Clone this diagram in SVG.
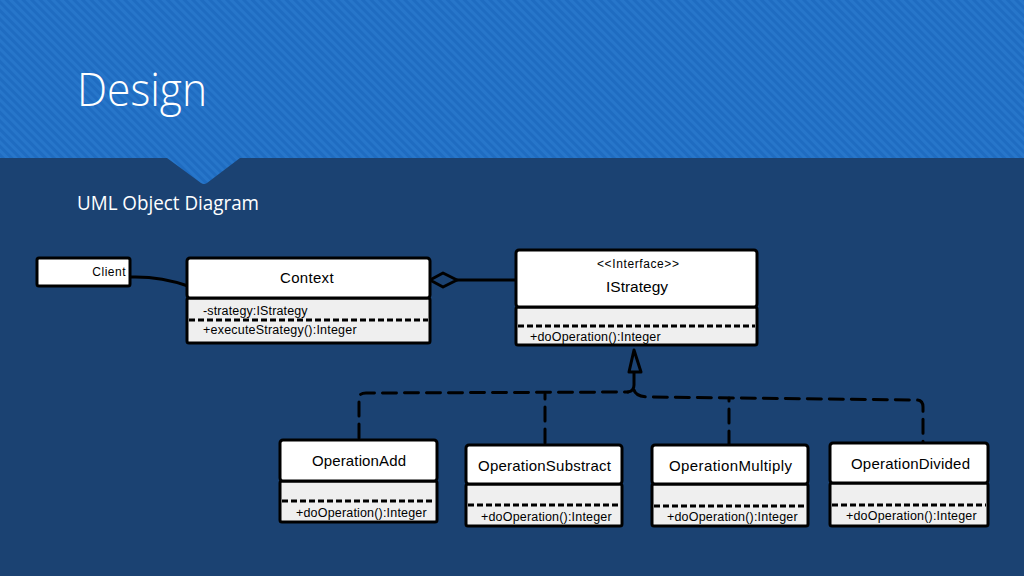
<svg xmlns="http://www.w3.org/2000/svg" width="1024" height="576" viewBox="0 0 1024 576">
<defs>
<pattern id="stripes" patternUnits="userSpaceOnUse" width="6" height="6" patternTransform="rotate(-45)">
<rect width="6" height="6" fill="#1F6CC1"/>
<rect width="3" height="6" fill="#2776CA"/>
</pattern>
<style>
.box{stroke:#000;stroke-width:3;stroke-linejoin:round}
.top{fill:#fff}
.bot{fill:#EFEFEF}
.sep{stroke:#000;stroke-width:3;stroke-dasharray:6 3;fill:none}
.t{font-family:"Liberation Sans",Arial,sans-serif;fill:#000}
.title{font-size:15px;text-anchor:middle;letter-spacing:0.3px}
.m{font-size:12.5px;letter-spacing:0.4px}
.con{stroke:#000;stroke-width:3;fill:none;stroke-linecap:round}
.dash{stroke-dasharray:14 8}
</style>
</defs>
<rect width="1024" height="576" fill="#1B4272"/>
<path d="M0 0H1024V158H240L207 183Q204 185 201 183L167 158H0Z" fill="url(#stripes)"/>
<text x="77" y="106" font-family="'Open Sans','Noto Sans',sans-serif" font-weight="300" font-size="46" fill="#fff" textLength="130" lengthAdjust="spacingAndGlyphs">Design</text>
<text x="77" y="210" font-family="'Open Sans','Noto Sans',sans-serif" font-size="20" fill="#fff" textLength="182" lengthAdjust="spacingAndGlyphs">UML Object Diagram</text>

<g id="connectors">
<path class="con" d="M130 277Q160 276 188 286"/>
<polygon points="430,280 443,273 457,280 443,287" fill="#1B4272" stroke="#000" stroke-width="3" stroke-linejoin="round"/>
<path class="con" d="M457 280L515 280"/>
<path class="con" d="M634 372V385Q634 391 628 392"/>
<polygon points="634,350 629,372 641,372" fill="#1B4272" stroke="#000" stroke-width="3" stroke-linejoin="round"/>
<path class="con dash" d="M359 438V398Q359 393 366 393L628 392"/>
<path class="con dash" d="M634 390Q636 397 650 397L916 400Q923 400 923 407V443"/>
<path class="con dash" d="M545 443V394"/>
<path class="con dash" d="M729 445V398"/>
</g>

<g id="client">
<rect class="box top" x="37" y="258" width="93" height="28" rx="2"/>
<text class="t" x="126" y="276" font-size="12" letter-spacing="0.5" text-anchor="end">Client</text>
</g>

<g id="context">
<rect class="box bot" x="187" y="298" width="243" height="45" rx="2"/>
<rect class="box top" x="187" y="258" width="243" height="40" rx="3"/>
<text class="t title" x="307" y="283">Context</text>
<text class="t m" x="203" y="315" textLength="105" lengthAdjust="spacing">-strategy:IStrategy</text>
<path class="sep" d="M189 320H428"/>
<text class="t m" x="203" y="334" textLength="154" lengthAdjust="spacing">+executeStrategy():Integer</text>
</g>

<g id="istrategy">
<rect class="box bot" x="516" y="307" width="241" height="38" rx="2"/>
<rect class="box top" x="516" y="250" width="241" height="57" rx="3"/>
<text class="t" x="597" y="268" font-size="12" textLength="82" lengthAdjust="spacing">&lt;&lt;Interface&gt;&gt;</text>
<text class="t" x="637" y="292" font-size="15.5" text-anchor="middle">IStrategy</text>
<path class="sep" d="M518 326H755"/>
<text class="t m" x="530" y="341" textLength="131" lengthAdjust="spacing">+doOperation():Integer</text>
</g>

<g id="opadd">
<rect class="box bot" x="280" y="481" width="157" height="41" rx="2"/>
<rect class="box top" x="280" y="440" width="157" height="41" rx="3"/>
<text class="t" x="312" y="466" font-size="15" textLength="94" lengthAdjust="spacing">OperationAdd</text>
<path class="sep" d="M282 501H435"/>
<text class="t m" x="296" y="517" textLength="131" lengthAdjust="spacing">+doOperation():Integer</text>
</g>

<g id="opsub">
<rect class="box bot" x="466" y="484" width="156" height="42" rx="2"/>
<rect class="box top" x="466" y="445" width="156" height="39" rx="3"/>
<text class="t" x="478" y="471" font-size="15" textLength="133" lengthAdjust="spacing">OperationSubstract</text>
<path class="sep" d="M468 505H620"/>
<text class="t m" x="481" y="521" textLength="131" lengthAdjust="spacing">+doOperation():Integer</text>
</g>

<g id="opmul">
<rect class="box bot" x="652" y="484" width="156" height="42" rx="2"/>
<rect class="box top" x="652" y="445" width="156" height="39" rx="3"/>
<text class="t" x="669" y="471" font-size="15" textLength="123" lengthAdjust="spacing">OperationMultiply</text>
<path class="sep" d="M654 506H806"/>
<text class="t m" x="667" y="521" textLength="131" lengthAdjust="spacing">+doOperation():Integer</text>
</g>

<g id="opdiv">
<rect class="box bot" x="830" y="483" width="158" height="43" rx="2"/>
<rect class="box top" x="830" y="443" width="158" height="40" rx="3"/>
<text class="t" x="851" y="469" font-size="15" textLength="119" lengthAdjust="spacing">OperationDivided</text>
<path class="sep" d="M832 505H986"/>
<text class="t m" x="846" y="520" textLength="131" lengthAdjust="spacing">+doOperation():Integer</text>
</g>
</svg>
